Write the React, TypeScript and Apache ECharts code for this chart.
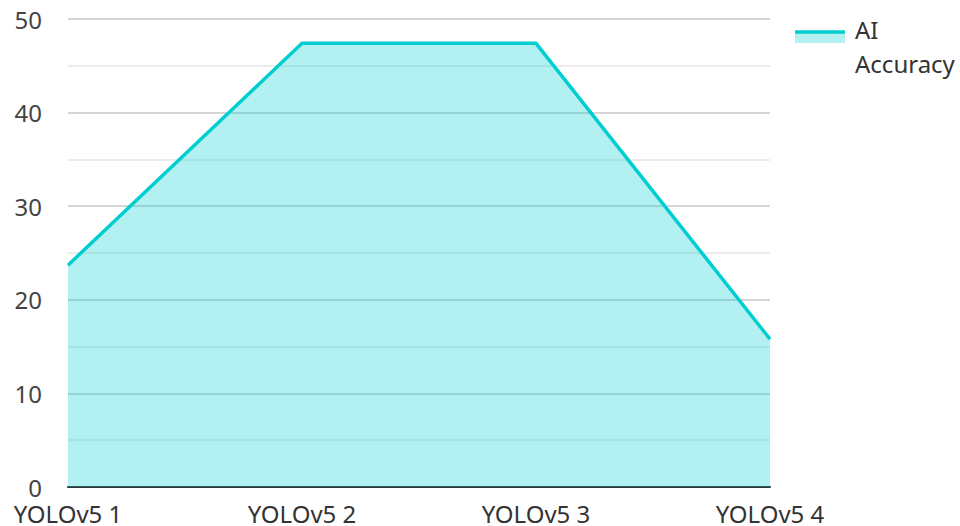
import React, { useEffect, useRef } from "react";
import * as echarts from "echarts";

const categories = ["YOLOv5 1", "YOLOv5 2", "YOLOv5 3", "YOLOv5 4"];
const accuracy = [23.7, 47.4, 47.4, 15.8];
const seriesName = "AI Accuracy";
const lineColor = "#00CED1";
const fillColor = "rgba(0, 206, 209, 0.3)";
const font = "'Noto Sans', sans-serif";

export default function App() {
  const ref = useRef<HTMLDivElement>(null);
  useEffect(() => {
    if (!ref.current) return;
    const chart = echarts.init(ref.current, undefined, { renderer: "svg" });
    chart.setOption({
      animation: false,
      textStyle: { fontFamily: font },
      grid: { left: 68, right: 190, top: 19, bottom: 39, containLabel: false },
      xAxis: {
        type: "category",
        data: categories,
        boundaryGap: false,
        axisLine: { show: true, lineStyle: { color: "#333", width: 2 } },
        axisTick: { show: false },
        axisLabel: { color: "#333", fontSize: 24, fontFamily: font, margin: 14 },
        splitLine: { show: false },
      },
      yAxis: {
        type: "value",
        min: 0,
        max: 50,
        interval: 10,
        axisLine: { show: false },
        axisTick: { show: false },
        axisLabel: { color: "#444", fontSize: 24, fontFamily: font, margin: 26 },
        splitLine: { show: true, lineStyle: { color: "#c8c8c8", width: 1.5 } },
        minorTick: { show: false, splitNumber: 2 },
        minorSplitLine: { show: true, lineStyle: { color: "#e6e6e6", width: 1.5 } },
      },
      series: [
        {
          name: seriesName,
          type: "line",
          data: accuracy,
          symbol: "none",
          lineStyle: { color: lineColor, width: 3.5 },
          itemStyle: { color: lineColor },
          areaStyle: { color: fillColor, opacity: 1 },
          z: 3,
        },
      ],
      graphic: [
        { type: "rect", shape: { x: 795, y: 33, width: 50, height: 10 }, style: { fill: fillColor } },
        { type: "line", shape: { x1: 795, y1: 32, x2: 845, y2: 32 }, style: { stroke: lineColor, lineWidth: 3.5 } },
        {
          type: "text",
          x: 855,
          y: 12,
          style: {
            text: "AI\nAccuracy",
            fill: "#333",
            font: `24px ${font}`,
            fontSize: 24,
            fontFamily: font,
            lineHeight: 34,
            verticalAlign: "top",
          },
        },
      ],
    });
    return () => chart.dispose();
  }, []);
  return <div ref={ref} style={{ width: 960, height: 526, position: "absolute", left: 0, top: 0 }} />;
}
